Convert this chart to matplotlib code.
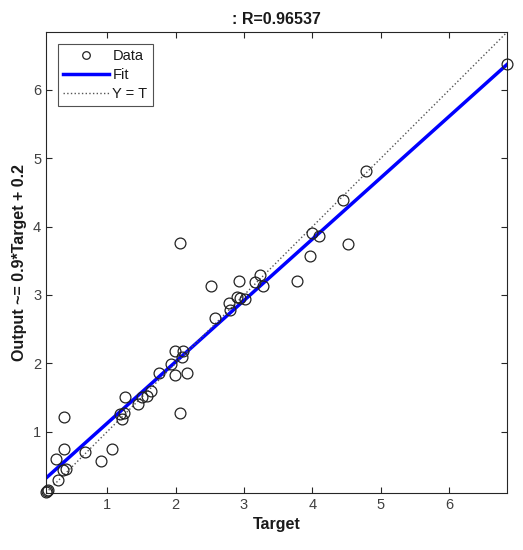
import numpy as np
import matplotlib
matplotlib.use("Agg")
import matplotlib.pyplot as plt

plt.rcParams['font.family'] = ['Liberation Sans', 'DejaVu Sans']

# Data
target = [0.105, 0.13, 0.12, 0.28, 0.35, 0.40, 0.25, 0.37, 0.37, 0.67, 0.91, 1.07,
          1.19, 1.21, 1.24, 1.26, 1.45, 1.51, 1.58, 1.64, 1.76, 1.93, 1.99, 2.11,
          2.09, 1.99, 2.17, 2.06, 2.06, 2.52, 2.57, 2.79, 2.78, 2.90, 2.94, 3.01,
          2.93, 3.16, 3.23, 3.28, 3.77, 3.97, 3.99, 4.10, 4.52, 4.45, 4.79, 6.85]
output = [0.12, 0.15, 0.13, 0.29, 0.44, 0.45, 0.60, 0.75, 1.22, 0.70, 0.57, 0.75,
          1.26, 1.19, 1.27, 1.51, 1.41, 1.51, 1.52, 1.60, 1.86, 1.99, 2.18, 2.18,
          2.09, 1.83, 1.86, 1.27, 3.76, 3.13, 2.66, 2.78, 2.88, 2.97, 2.96, 2.94,
          3.20, 3.19, 3.29, 3.13, 3.20, 3.57, 3.91, 3.86, 3.75, 4.39, 4.82, 6.38]
fit_slope = 0.898
fit_intercept = 0.226
title_text = ": R=0.96537"
xticks = [1, 2, 3, 4, 5, 6]

t = np.array(target)
y = np.array(output)
lo = min(t.min(), y.min())
hi = max(t.max(), y.max())

fig = plt.figure(figsize=(5.23, 5.50), dpi=100)
ax = fig.add_axes([0.088, 0.104, 0.882, 0.838])

gray = "#262626"
ax.plot(t, y, "o", mfc="none", mec="#222222", ms=7.8, mew=0.9, label="Data",
        clip_on=False, zorder=3)
xs = np.array([lo, hi])
ax.plot(xs, fit_slope * xs + fit_intercept, color="blue", lw=2.5, label="Fit")
ax.plot(xs, xs, ":", color="#555555", lw=1.0, label="Y = T")

ax.set_xlim(lo, hi)
ax.set_ylim(lo, hi)
ax.set_xticks(xticks)
ax.set_yticks(xticks)
ax.tick_params(direction="in", top=True, right=True, length=4, width=0.8,
               colors=gray, labelsize=10.5, labelcolor="#404040")
for s in ax.spines.values():
    s.set_color(gray)
    s.set_linewidth(0.8)

ax.set_title(title_text, fontsize=11.5, fontweight="bold", color="#1a1a1a", pad=6)
ax.set_xlabel("Target", fontsize=11.5, fontweight="bold", color="#1a1a1a")
ax.set_ylabel("Output ~= 0.9*Target + 0.2", fontsize=11.5, fontweight="bold", color="#1a1a1a")

leg = ax.legend(loc="upper left", fontsize=10.5, frameon=True, fancybox=False,
                edgecolor=gray, borderaxespad=0.8, handlelength=3.2, labelspacing=0.35,
                handletextpad=0.2, borderpad=0.35, markerscale=0.7)
leg.get_frame().set_linewidth(0.8)
for txt in leg.get_texts():
    txt.set_color("#1a1a1a")

plt.savefig("out.png", dpi=100)
